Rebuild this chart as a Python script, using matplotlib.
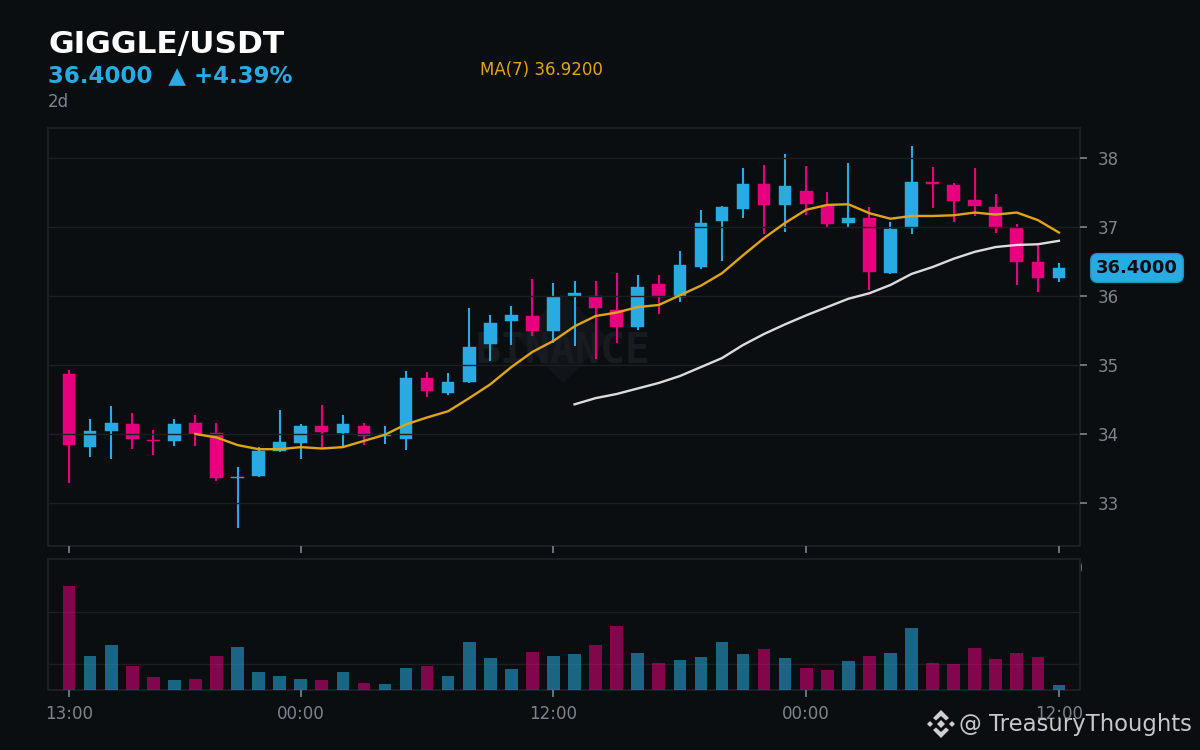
import numpy as np
import matplotlib
matplotlib.use("Agg")
import matplotlib.pyplot as plt
from matplotlib.patches import Polygon
from matplotlib.transforms import Affine2D

# ---- data ----
opens = [34.87, 33.81, 34.04, 34.14, 33.92, 33.90, 34.16, 34.01, 33.36, 33.39, 33.75, 33.87,
         34.12, 34.01, 34.12, 33.97, 33.93, 34.81, 34.59, 34.75, 35.30, 35.64, 35.71, 35.49,
         36.00, 36.00, 35.80, 35.55, 36.17, 35.99, 36.42, 37.09, 37.26, 37.62, 37.32, 37.52,
         37.32, 37.06, 37.13, 36.33, 36.99, 37.65, 37.61, 37.39, 37.29, 36.99, 36.49, 36.26]
closes = [33.84, 34.04, 34.16, 33.93, 33.90, 34.14, 34.00, 33.36, 33.38, 33.75, 33.88, 34.12,
          34.03, 34.14, 33.97, 34.00, 34.81, 34.62, 34.75, 35.26, 35.61, 35.72, 35.49, 35.99,
          36.04, 35.83, 35.55, 36.13, 35.99, 36.45, 37.06, 37.29, 37.62, 37.32, 37.59, 37.33,
          37.04, 37.13, 36.35, 36.97, 37.65, 37.62, 37.38, 37.30, 36.99, 36.49, 36.26, 36.40]
highs = [34.93, 34.22, 34.41, 34.30, 34.06, 34.22, 34.28, 34.16, 33.52, 33.81, 34.35, 34.14,
         34.42, 34.28, 34.16, 34.12, 34.91, 34.90, 34.88, 35.83, 35.72, 35.86, 36.25, 36.19,
         36.22, 36.22, 36.33, 36.30, 36.30, 36.65, 37.25, 37.30, 37.86, 37.90, 38.06, 37.88,
         37.51, 37.93, 37.29, 37.07, 38.17, 37.87, 37.64, 37.86, 37.48, 37.04, 36.74, 36.48]
lows = [33.29, 33.66, 33.64, 33.78, 33.70, 33.83, 33.83, 33.32, 32.64, 33.38, 33.74, 33.64,
        33.78, 33.81, 33.84, 33.86, 33.77, 34.54, 34.57, 34.74, 35.06, 35.29, 35.42, 35.32,
        35.28, 35.09, 35.32, 35.51, 35.74, 35.91, 36.39, 36.51, 37.13, 36.90, 36.93, 37.17,
        37.00, 37.00, 36.09, 36.32, 36.90, 37.28, 37.07, 37.16, 36.91, 36.16, 36.06, 36.20]
volumes = [200, 65, 87, 46, 25, 19, 21, 65, 83, 35, 27, 21, 19, 35, 13, 12, 42, 46, 27, 92, 62, 40, 73, 65,
           69, 87, 123, 71, 52, 58, 63, 92, 69, 79, 62, 42, 38, 56, 65, 71, 119, 52, 50, 81, 60, 71, 63, 10]

ma7_start = 6
ma7 = [34.00, 33.95, 33.84, 33.78, 33.78, 33.81, 33.79, 33.81, 33.90, 33.99, 34.14, 34.24, 34.33, 34.52,
       34.72, 34.97, 35.19, 35.35, 35.56, 35.71, 35.76, 35.84, 35.87, 36.01, 36.15, 36.33, 36.59, 36.84,
       37.06, 37.25, 37.32, 37.33, 37.20, 37.12, 37.16, 37.16, 37.17, 37.21, 37.18, 37.21, 37.10, 36.92]
ma25_start = 24
ma25 = [34.43, 34.52, 34.58, 34.66, 34.74, 34.84, 34.97, 35.10, 35.29, 35.45, 35.59, 35.72,
        35.84, 35.96, 36.04, 36.16, 36.32, 36.42, 36.54, 36.64, 36.71, 36.74, 36.75, 36.80]

tick_idx = [0, 11, 23, 35, 47]
tick_labels = ["13:00", "00:00", "12:00", "00:00", "12:00"]
price_ticks = [33, 34, 35, 36, 37, 38]
volume_ticks = [50, 150]

BG = "#0b0e11"
UP = "#29abe2"
DOWN = "#e6007e"
GOLD = "#e0a516"
GRID = "#1b1f23"
MUTED = "#7d858c"

W, H = 1200, 750

fig = plt.figure(figsize=(12, 7.5), dpi=100, facecolor=BG)
ax = fig.add_axes([48 / W, 1 - 546 / H, 1032 / W, 418 / H], facecolor=BG)
ax_vol = fig.add_axes([48 / W, 1 - 690 / H, 1032 / W, 131 / H], facecolor=BG)

x = np.arange(len(opens))
o = np.array(opens)
c = np.array(closes)
colors = [UP if b >= a else DOWN for a, b in zip(opens, closes)]

# ---- candles, grid lines sit on top of them ----
ax.vlines(x, lows, highs, colors=colors, linewidth=1.5, zorder=2)
ax.bar(x, np.abs(c - o), bottom=np.minimum(o, c), width=0.6, color=colors,
       edgecolor=colors, linewidth=0.3, zorder=2)

ax.plot(x[ma7_start:], ma7, color=GOLD, linewidth=1.7, zorder=5)
ax.plot(x[ma25_start:], ma25, color="#dcdcdc", linewidth=1.7, zorder=5)

ax.set_xlim(-1, 48)
ax.set_ylim(32.377, 38.435)
ax.set_yticks(price_ticks)
ax.yaxis.tick_right()
ax.set_xticks(tick_idx)
ax.set_xticklabels(tick_labels)

# ---- volume ----
ax_vol.bar(x, volumes, width=0.6, color=colors, alpha=0.55, zorder=3)
ax_vol.set_xlim(-1, 48)
ax_vol.set_ylim(0.5, 252)
ax_vol.set_yticks(volume_ticks)
ax_vol.set_xticks(tick_idx)
ax_vol.set_xticklabels(tick_labels)
ax_vol.tick_params(axis="y", length=0, labelleft=False, labelright=False)

for a in (ax, ax_vol):
    a.grid(axis="y", color=GRID, linewidth=1.0)
    a.grid(axis="x", visible=False)
    a.set_axisbelow(False)
    for s in a.spines.values():
        s.set_color(GRID)
        s.set_linewidth(1.5)
ax.tick_params(axis="y", colors=MUTED, labelsize=12, length=5, width=1.2, pad=8)
ax.tick_params(axis="x", colors=MUTED, labelsize=12, length=5, width=1.2, pad=5)
ax_vol.tick_params(axis="x", colors=MUTED, labelsize=12, length=5, width=1.2, pad=6)


def px(x_px, y_px):
    return x_px / W, 1 - y_px / H


# ---- background watermark ----
pix = Affine2D().scale(1, -1).translate(0, H)
wm_x, wm_y = ax.transAxes.inverted().transform((563, H - 338))
ax.plot([wm_x], [wm_y], marker="D", markersize=46, color="#111519", markeredgewidth=0,
        transform=ax.transAxes, zorder=1)
ax.text(wm_x, ax.transAxes.inverted().transform((563, H - 351))[1], "BINANCE", transform=ax.transAxes,
        ha="center", va="center", color="#181c20", fontsize=30, fontweight="bold",
        family="DejaVu Sans Mono", zorder=1.5)

# ---- header ----
fig.text(*px(48, 44), "GIGGLE/USDT", color="white", fontsize=22.5, fontweight="bold", va="center")
fig.text(*px(48, 76), "36.4000  ▲ +4.39%", color=UP, fontsize=16.5, fontweight="bold", va="center")
fig.text(*px(48, 102), "2d", color=MUTED, fontsize=12, va="center")
fig.text(*px(480, 70), "MA(7) 36.9200", color=GOLD, fontsize=12, va="center")

# ---- last price tag ----
fig.text(*px(1137, 268), "36.4000", color="#0a0d10", fontsize=13, fontweight="bold", ha="center", va="center",
         bbox=dict(boxstyle="round,pad=0.3,rounding_size=0.4", facecolor=UP, edgecolor="#2191c0", linewidth=1))

# ---- author mark, bottom right ----
cx, cy = 941, 724
logo = [
    [(cx, cy - 4), (cx + 4, cy), (cx, cy + 4), (cx - 4, cy)],
    [(cx - 14, cy), (cx - 11, cy - 3), (cx - 8, cy), (cx - 11, cy + 3)],
    [(cx + 14, cy), (cx + 11, cy - 3), (cx + 8, cy), (cx + 11, cy + 3)],
    [(cx, cy - 14), (cx + 8, cy - 6), (cx + 5, cy - 3.5), (cx, cy - 8), (cx - 5, cy - 3.5), (cx - 8, cy - 6)],
    [(cx, cy + 14), (cx + 8, cy + 6), (cx + 5, cy + 3.5), (cx, cy + 8), (cx - 5, cy + 3.5), (cx - 8, cy + 6)],
]
for pts in logo:
    fig.add_artist(Polygon(pts, closed=True, facecolor="#cfcfcf", edgecolor="none", transform=pix, zorder=6))
fig.text(*px(959, 725), "@ TreasuryThoughts", color="#c8c8c8", fontsize=16.4, va="center", zorder=6)

fig.savefig("out.png", dpi=100, facecolor=BG)
